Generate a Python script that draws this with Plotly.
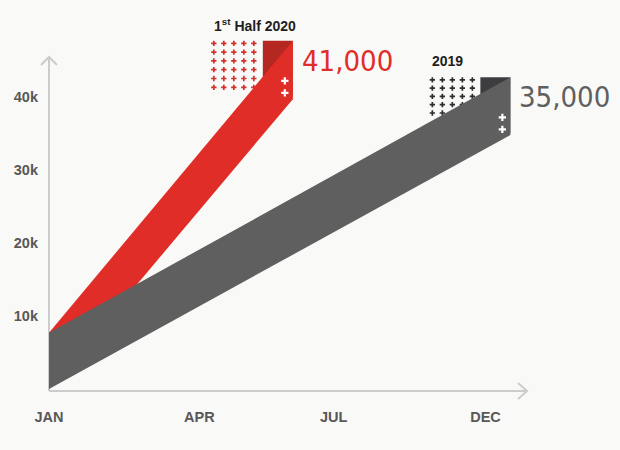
import numpy as np
import plotly.graph_objects as go

# --- data ---------------------------------------------------------------
# month ticks (the source spaces them evenly, not by month count)
month_labels = ["JAN", "APR", "JUL", "DEC"]
month_pos = [0.0, 1.03, 1.95, 2.99]

y_ticks = [10000, 20000, 30000, 40000]
y_tick_labels = ["10k", "20k", "30k", "40k"]

# band = [start, end] x, lower edge, upper edge
half2020_x = [0.0, 1.67]
half2020_low = [0, 39700]
half2020_high = [7700, 47700]
half2020_title = "1<sup>st</sup> Half 2020"
half2020_label = "41,000"

y2019_x = [0.0, 3.16]
y2019_low = [0, 34800]
y2019_high = [7700, 42700]
y2019_title = "2019"
y2019_label = "35,000"

# --- look ---------------------------------------------------------------
W, H = 620, 450
ORIGIN_X, ORIGIN_Y = 49, 389   # pixel position of (JAN, 0)
PAD = 20                       # room left/below the origin so the arrows don't get clipped
MT = 10
PX_X = 146.0          # px per x unit
PX_Y = 7.3 / 1000.0   # px per value unit

BG = "#F9F9F7"
RED, RED_DARK = "#E02D27", "#B42821"
GREY, GREY_DARK = "#5F5F5F", "#3D3D3F"
AXIS = "#CCCCCC"
TICK = "#585858"
FONT = "Liberation Sans, Arial, sans-serif"
NUM_FONT = "DejaVu Sans Condensed, sans-serif"


def dx(px):
    return px / PX_X


def dy(px):
    return px / PX_Y


x_range = [-dx(PAD), (W - ORIGIN_X) / PX_X]
y_range = [-dy(PAD), (ORIGIN_Y - MT) / PX_Y]

fig = go.Figure()
shapes = []
annotations = []


def add_band(xs, low, high, color, dark, dot_color, n_rows, row_step, grid_off,
             title, label, label_color):
    x1 = xs[1]
    sq_left = x1 - dx(30)
    # dark square peeking out behind the band end
    shapes.append(dict(type="rect", layer="below", xref="x", yref="y",
                       x0=sq_left, x1=x1, y0=high[1] - dy(56), y1=high[1],
                       fillcolor=dark, line_width=0))
    # grid of pluses left of the square
    gx = sq_left - dx(grid_off) + dx(10) * np.arange(5)
    gy = high[1] - dy(2.5) - dy(row_step) * np.arange(n_rows)
    GX, GY = np.meshgrid(gx, gy)
    fig.add_trace(go.Scatter(
        x=GX.ravel(), y=GY.ravel(), mode="markers", hoverinfo="skip",
        marker=dict(symbol="cross-thin", size=3.8, color=dot_color,
                    line=dict(width=1.7, color=dot_color)),
    ))
    # the band itself
    fig.add_trace(go.Scatter(
        x=[xs[0], xs[0], xs[1], xs[1], xs[0]],
        y=[low[0], high[0], high[1], low[1], low[0]],
        mode="lines", fill="toself", fillcolor=color,
        line=dict(width=0, color=color), hoverinfo="skip",
    ))
    # two white pluses on the band end
    fig.add_trace(go.Scatter(
        x=[x1 - dx(8)] * 2, y=[high[1] - dy(40), high[1] - dy(52)],
        mode="markers", hoverinfo="skip",
        marker=dict(symbol="cross-thin", size=5.2, color="white",
                    line=dict(width=2.2, color="white")),
    ))
    annotations.append(dict(
        x=sq_left - dx(grid_off + 2), y=high[1] + dy(16), xref="x", yref="y",
        text=title, showarrow=False, xanchor="left", yanchor="middle",
        font=dict(family=FONT, size=14, color="#1E1E1E", weight="bold"),
    ))
    annotations.append(dict(
        x=x1, y=high[1] - dy(20), xref="x", yref="y", xshift=7,
        text=label, showarrow=False, xanchor="left", yanchor="middle",
        font=dict(family=NUM_FONT, size=29, color=label_color),
    ))


add_band(half2020_x, half2020_low, half2020_high, RED, RED_DARK, "#D62F29",
         6, 8.8, 49, half2020_title, half2020_label, RED)
add_band(y2019_x, y2019_low, y2019_high, GREY, GREY_DARK, "#2E2E2E",
         5, 8.3, 48, y2019_title, y2019_label, GREY)

# axes with open arrow heads
y_top = dy(ORIGIN_Y - 57)
x_end = dx(527 - ORIGIN_X)
x_axis_y = -dy(2)
shapes += [
    dict(type="line", layer="below", xref="x", yref="y", x0=0, x1=0,
         y0=x_axis_y, y1=y_top, line=dict(color=AXIS, width=2)),
    dict(type="path", layer="below", xref="x", yref="y",
         xsizemode="pixel", xanchor=0, ysizemode="pixel", yanchor=y_top,
         path="M-8,-8 L0,0 L8,-8", line=dict(color=AXIS, width=2)),
    dict(type="line", layer="below", xref="x", yref="y", x0=0, x1=x_end,
         y0=x_axis_y, y1=x_axis_y, line=dict(color=AXIS, width=2)),
    dict(type="path", layer="below", xref="x", yref="y",
         xsizemode="pixel", xanchor=x_end, ysizemode="pixel", yanchor=x_axis_y,
         path="M-9,8 L0,0 L-9,-8", line=dict(color=AXIS, width=2)),
]

tick_font = dict(family=FONT, size=14.5, color=TICK, weight="bold")
fig.update_layout(
    width=W, height=H,
    margin=dict(l=ORIGIN_X - PAD, r=0, t=MT, b=H - ORIGIN_Y - PAD),
    paper_bgcolor=BG, plot_bgcolor=BG,
    showlegend=False,
    shapes=shapes, annotations=annotations,
    xaxis=dict(range=x_range, tickvals=month_pos, ticktext=month_labels,
               showgrid=False, zeroline=False, showline=False,
               ticklabelstandoff=-3, tickfont=tick_font, fixedrange=True),
    yaxis=dict(range=y_range, tickvals=y_ticks, ticktext=y_tick_labels,
               showgrid=False, zeroline=False, showline=False,
               ticklabelstandoff=-10, tickfont=tick_font, fixedrange=True),
)

fig.write_html(
    "out.html",
    config={"displayModeBar": False},
    post_script=f"document.body.style.margin='0';document.body.style.background='{BG}';",
)
